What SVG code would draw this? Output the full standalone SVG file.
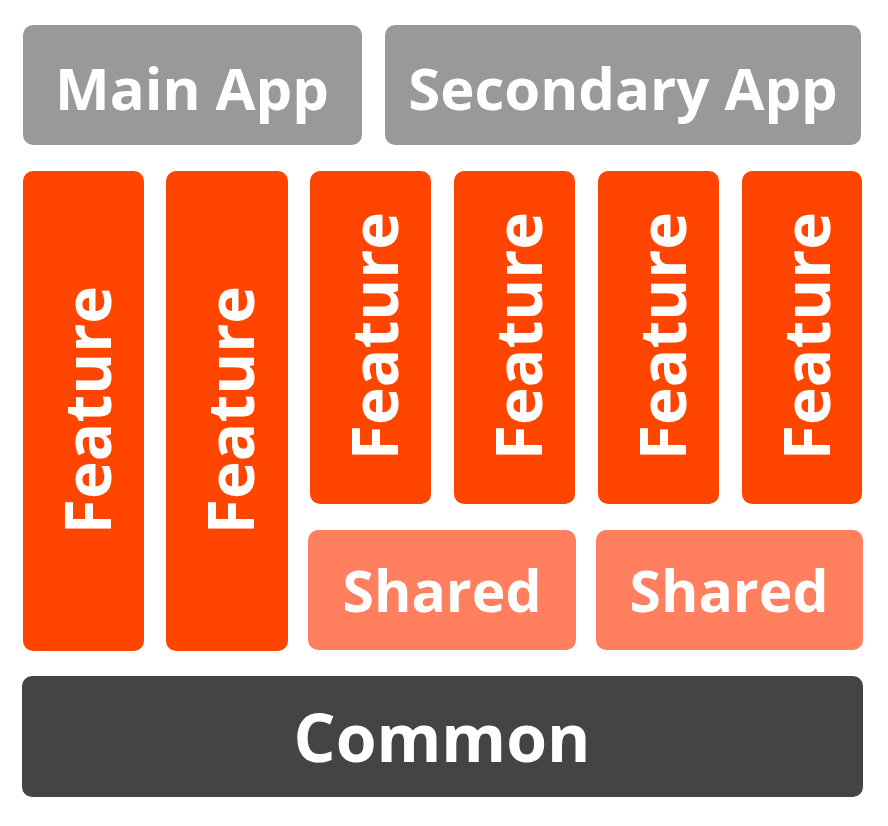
<svg xmlns="http://www.w3.org/2000/svg" width="888" height="826" viewBox="0 0 888 826">
<style>
text{font-family:"Open Sans","DejaVu Sans",sans-serif;font-weight:bold;fill:#fff;text-anchor:middle;dominant-baseline:central}
.app{fill:#999}.feat{fill:#ff4500}.sh{fill:#ff7f5f}.com{fill:#444}
.f{font-size:64px}
</style>
<rect width="888" height="826" fill="#fff"/>
<g id="main"><rect class="app" x="23" y="25" width="339" height="120" rx="10"/><text x="192" y="87" font-size="58">Main App</text></g>
<g id="secondary"><rect class="app" x="385" y="25" width="476" height="120" rx="10"/><text x="623" y="87" font-size="58">Secondary App</text></g>
<g id="f1"><rect class="feat" x="23" y="171" width="121" height="480" rx="10"/><text class="f" transform="translate(86 410) rotate(-90)">Feature</text></g>
<g id="f2"><rect class="feat" x="166" y="171" width="122" height="480" rx="10"/><text class="f" transform="translate(229 410) rotate(-90)">Feature</text></g>
<g id="f3"><rect class="feat" x="310" y="171" width="121" height="333" rx="10"/><text class="f" transform="translate(373 336) rotate(-90)">Feature</text></g>
<g id="f4"><rect class="feat" x="454" y="171" width="121" height="333" rx="10"/><text class="f" transform="translate(517 336) rotate(-90)">Feature</text></g>
<g id="f5"><rect class="feat" x="598" y="171" width="121" height="333" rx="10"/><text class="f" transform="translate(661 336) rotate(-90)">Feature</text></g>
<g id="f6"><rect class="feat" x="742" y="171" width="120" height="333" rx="10"/><text class="f" transform="translate(805 336) rotate(-90)">Feature</text></g>
<g id="s1"><rect class="sh" x="308" y="530" width="268" height="120" rx="10"/><text x="442" y="590" font-size="57">Shared</text></g>
<g id="s2"><rect class="sh" x="596" y="530" width="267" height="120" rx="10"/><text x="729" y="590" font-size="57">Shared</text></g>
<g id="common"><rect class="com" x="22" y="676" width="841" height="121" rx="10"/><text x="442" y="736" font-size="66">Common</text></g>
<g id="connectors"/>
</svg>
